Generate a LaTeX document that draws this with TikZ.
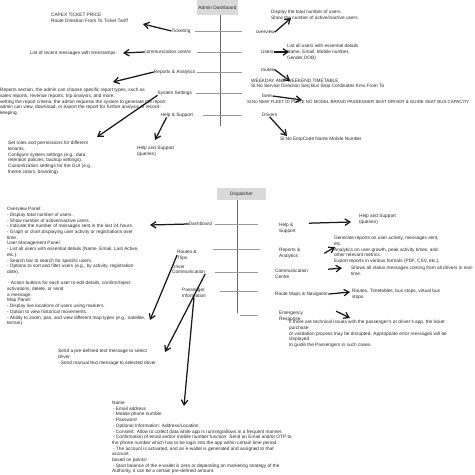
\documentclass[tikz,border=0pt]{standalone}
\usepackage{fontspec}
\setmainfont{Liberation Sans}
\usetikzlibrary{arrows.meta,calc,positioning}

\begin{document}
\begin{tikzpicture}[
    x=2pt, y=-2pt,
    font=\fontsize{9.5}{11.4}\selectfont,
    hub/.style={fill=black!15, text=black!85, minimum width=82pt,
        minimum height=30pt, inner sep=0pt},
    lbl/.style={inner sep=0pt, anchor=west, text=black!85},
    lblr/.style={lbl, anchor=east},
    note/.style={inner sep=0pt, anchor=north west, align=left, text=black!85},
    spine/.style={draw=black!60, line width=1.6pt},
    tick/.style={draw=black!40, line width=1.2pt},
    arrow/.style={-{Straight Barb[length=10pt, width=13pt]}, line width=2.5pt, black!90}
]
\useasboundingbox (0,0) rectangle (474,475);

\node[hub] (admin) at (217.5,7.5) {Admin Dashboard};
\coordinate (aend) at (220,126);
\draw[spine] (admin.south -| aend) -- (aend);
\foreach \y/\a in {31/195,52/197,72/197,93/196,115/203}
    \draw[tick] (\a,\y) -- (242,\y);

\node[lblr] (ticketing) at (190.5,31) {Ticketing};
\node[lblr] (commcentre) at (191,52) {communication centre};
\node[lblr] (reports) at (195.5,72) {Reports \& Analytics};
\node[lblr] (settings) at (192,93) {System Settings};
\node[lblr] (helpdesk) at (193,115) {Help \& Support};

\node[lbl] (overview) at (256,32) {overview};
\node[lbl] (users) at (261,52) {Users};
\node[lbl] (routes) at (261,69.5) {routes};
\node[lbl] (fares) at (262,96) {fares};
\node[lbl] (drivers) at (262,115) {Drivers};

\node[note] (capex) at (51,13.2) {CAPEX TICKET PRICE\\Route Direction From To Ticket Tariff};
\node[note] (recent) at (30,50.7) {List of recent messages with timestamps.};
\node[note] (reportnote) at (0,88.2)
    {Reports section, the admin can choose specific report types, such as\\
     sales reports, revenue reports, trip analysis, and more.\\
     setting the report criteria, the admin requests the system to generate the report\\
     admin can view, download, or export the report for further analysis or record-\\
     keeping.};
\node[note] (settingsnote) at (8,141.2)
    {Set roles and permissions for different\\tenants.\\
     Configure system settings (e.g., data\\retention policies, backup settings).\\
     Customization settings for the GUI (e.g.,\\theme colors, branding).};
\node[note] (helpnote) at (137,146.2) {Help and Support\\(queries)};

\node[note] (overviewnote) at (271,10.2)
    {Display the total number of users.\\Show the number of active/inactive users};
\node[note] (usersnote) at (287,44.2)
    {List all users with essential details\\Name, Email, Mobile number,\\Gender,DOB)};
\node[note] (routesnote) at (251,78.7)
    {WEEKDAY AND WEEKEND TIMETABLE\\Sl.No Service Direction Seq Bus Stop Cordinates Kms From To};
\node[note, font=\fontsize{8.8}{11.4}\selectfont] (faresnote) at (247,100.2)
    {Sl.No NEW FLEET ID PLATE NO MODEL BRAND PASSENGER SEAT DRIVER \& GUIDE SEAT BUS CAPACITY};
\node[note] (driversnote) at (280,137.2) {Sl.No EmpCode Name Mobile Number};

\coordinate (capexin) at (143,24);
\coordinate (recentin) at (123,53);
\coordinate (reportin) at (113,82);
\coordinate (settingsin) at (97,137);
\coordinate (helpin) at (155,140);
\coordinate (overviewin) at (291,18);
\coordinate (usersin) at (289,52);
\coordinate (routesin) at (290,81);
\coordinate (faresin) at (302,100);
\coordinate (driversin) at (287,136);

\draw[arrow] (ticketing.west) -- (capexin);
\draw[arrow] (commcentre.west) -- (recentin);
\draw[arrow] (reports.west) -- (reportin);
\draw[arrow] (settings.south west) -- (settingsin);
\draw[arrow] ([xshift=12pt]helpdesk.south west) -- (helpin);
\draw[arrow] (overview.east) -- (overviewin);
\draw[arrow] (users.east) -- (usersin);
\draw[arrow] (routes.east) -- (routesin);
\draw[arrow] (fares.east) -- (faresin);
\draw[arrow] (drivers.south) -- (driversin);

\node[hub, minimum width=98pt, minimum height=24pt] (dispatcher) at (241.5,194) {Dispatcher};
\coordinate (dend) at (237,313);
\draw[spine] (dispatcher.south -| dend) -- (dend);
\foreach \y/\a/\b in {224/215/258,249/213/260,272/215/258,291/220/258,315/240/258}
    \draw[tick] (\a,\y) -- (\b,\y);

\node[lblr] (dashboard) at (212,224) {Dashboard};
\node[note] (trips) at (177,250.2) {Routes \&\\Trips};
\node[note] (drivercomm) at (172,264.5) {Driver\\Communication};
\node[note] (passenger) at (182,288.2) {Passenger\\Information};
\node[note] (helpsup) at (279,223.2) {Help \&\\Support};
\node[note] (analytics) at (279,248.2) {Reports \&\\Analytics};
\node[note] (commcentre2) at (275,269.2) {Communication\\Centre};
\node[lbl] (routemaps) at (275,294) {Route Maps \& Navigation};
\node[note] (emergency) at (279,311.2) {Emergency\\Response};

\node[note] (panels) at (7,207.2)
    {Overview Panel:\\
     - Display total number of users.\\
     - Show number of active/inactive users.\\
     - Indicate the number of messages sent in the last 24 hours.\\
     - Graph or chart displaying user activity or registrations over\\
     time.\\
     User Management Panel:\\
     - List all users with essential details (Name, Email, Last Active,\\
     etc.).\\
     - Search bar to search for specific users.\\
     - Options to sort and filter users (e.g., by activity, registration\\
     date).\\
     \mbox{}\\
     \hspace*{2pt}- Action buttons for each user to edit details, confirm/reject\\
     activations, delete, or send\\
     a message.\\
     Map Panel:\\
     - Display live locations of users using markers.\\
     - Option to view historical movements.\\
     - Ability to zoom, pan, and view different map types (e.g., satellite,\\
     terrain).};
\node[note] (sendnote) at (58,349.2)
    {Send a pre-defined text message to select\\driver.\\
     - Send manual text message to selected driver.};
\node[note] (signup) at (112,401.2)
    {Name\\
     \hspace*{2pt}- Email address\\
     \hspace*{2pt}- Mobile phone number\\
     \hspace*{2pt}- Password\\
     \hspace*{2pt}- Optional Information: Address/Location\\
     \hspace*{2pt}- Consent: Allow to collect data while app is running/allows in a frequent manner.\\
     \hspace*{2pt}- Confirmation of email and/or mobile number function: Send an Email and/or OTP to\\
     the phone number which has to be login into the app within certain time period.\\
     \hspace*{2pt}- The account is activated, and an e-wallet is generated and assigned to that\\
     account\\
     based on points!\\
     \hspace*{2pt}- Start balance of the e-wallet is zero or depending on marketing strategy of the\\
     Authority, it can be a certain pre-defined amount.};
\node[note] (supportnote) at (359,214.2) {Help and Support\\(queries)};
\node[note] (analyticsnote) at (334,236.2)
    {Generate reports on user activity, messages sent,\\etc.\\
     Analytics on user growth, peak activity times, and\\other relevant metrics.\\
     Export reports in various formats (PDF, CSV, etc.).};
\node[note] (statusnote) at (351,266.2)
    {Shows all status messages coming from all drivers in real-\\time.};
\node[note] (mapsnote) at (352,289.2) {Routes, Timetables, bus stops, virtual bus\\stops.};
\node[note] (emergnote) at (289,320.2)
    {If there are technical issues with the passenger's or driver's app, the ticket\\
     purchase\\
     or validation process may be disrupted. Appropriate error messages will be\\
     displayed\\
     to guide the Passengers in such cases.};

\coordinate (panelsin) at (150,225);
\coordinate (tripsin) at (150,320);
\coordinate (sendin) at (165,352);
\coordinate (signupin) at (184,406);
\coordinate (supportin) at (351,222);
\coordinate (analyticsin) at (335,247);
\coordinate (statusin) at (342,268);
\coordinate (mapsin) at (350,292);
\coordinate (emergin) at (350,318);

\draw[arrow] (dashboard.west) -- (panelsin);
\draw[arrow] (trips.west) -- (tripsin);
\draw[arrow] (drivercomm.south east) -- (sendin);
\draw[arrow] (passenger.south) -- (signupin);
\draw[arrow] ([xshift=26pt]helpsup.north east) -- (supportin);
\draw[arrow] ([xshift=48pt]analytics.east) -- (analyticsin);
\draw[arrow] ([xshift=40pt]commcentre2.north east) -- (statusin);
\draw[arrow] (routemaps.east) -- (mapsin);
\draw[arrow] ([xshift=66pt]emergency.north east) -- (emergin);

\end{tikzpicture}
\end{document}
